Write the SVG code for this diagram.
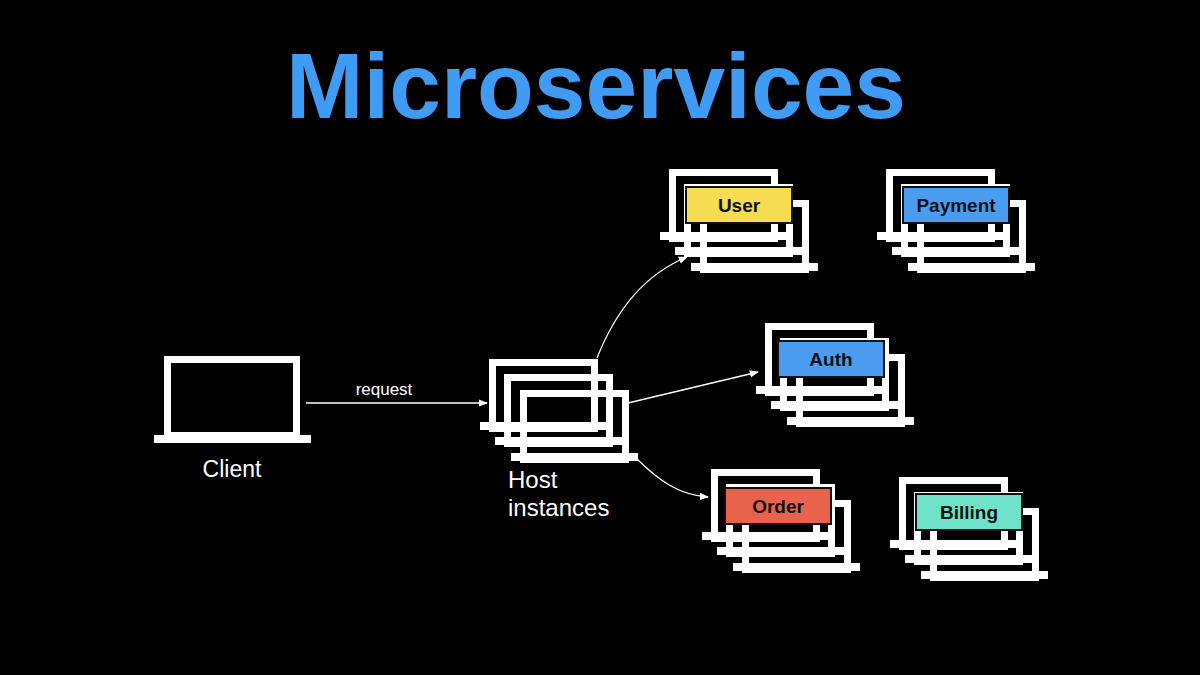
<svg xmlns="http://www.w3.org/2000/svg" xmlns:xlink="http://www.w3.org/1999/xlink" width="1200" height="675" viewBox="0 0 1200 675">
<style>
.scr{fill:none;stroke:#fff;stroke-width:7}
.base{fill:#fff}
.lbl{font-family:"Liberation Sans",Arial,sans-serif;fill:#fff}
.box{stroke:#111;stroke-width:2}
.bt{font-family:"Liberation Sans",Arial,sans-serif;font-weight:bold;font-size:19px;fill:#111;text-anchor:middle}
.conn{fill:none;stroke:#fff;stroke-width:1.3}
</style>
<defs>
<g id="lap"><rect class="scr" x="3.5" y="3.5" width="102" height="66"/><rect class="base" x="-9" y="63" width="127" height="8"/></g>
<g id="stack"><use href="#lap"/><use href="#lap" x="15" y="15"/><use href="#lap" x="31" y="31"/></g>
<marker id="ah" viewBox="0 0 10 10" refX="9" refY="5" markerWidth="7" markerHeight="7" orient="auto"><path d="M0,1 L10,5 L0,9 z" fill="#fff"/></marker>
</defs>
<rect width="1200" height="675" fill="#000"/>
<text x="596" y="118" text-anchor="middle" font-family="Liberation Sans,Arial,sans-serif" font-weight="bold" font-size="92" textLength="620" lengthAdjust="spacingAndGlyphs" fill="#3f9bf3">Microservices</text>
<g id="connectors">
<line class="conn" x1="306" y1="403" x2="487" y2="403" marker-end="url(#ah)"/>
<text class="lbl" x="384" y="395" font-size="17" text-anchor="middle">request</text>
<path class="conn" d="M597,358 C618,305 650,272 687,257" marker-end="url(#ah)"/>
<path class="conn" d="M628,403 L758,372" marker-end="url(#ah)"/>
<path class="conn" d="M636,458 C660,482 680,495 708,497" marker-end="url(#ah)"/>
</g>
<g id="client">
<rect class="scr" x="167.5" y="359.5" width="129" height="76"/><rect class="base" x="154" y="435" width="157" height="8"/>
<text class="lbl" x="232" y="477" font-size="23" text-anchor="middle">Client</text>
</g>
<g id="host">
<use href="#stack" x="489" y="359"/>
<text class="lbl" x="508" y="488" font-size="24">Host</text>
<text class="lbl" x="508" y="516" font-size="24">instances</text>
</g>
<g id="user"><use href="#stack" x="669" y="169"/><rect class="box" x="686" y="187" width="106" height="36" fill="#f5dc50"/><text class="bt" x="739" y="212">User</text></g>
<g id="payment"><use href="#stack" x="886" y="169"/><rect class="box" x="903" y="187" width="106" height="36" fill="#4a9cf0"/><text class="bt" x="956" y="212">Payment</text></g>
<g id="auth"><use href="#stack" x="765" y="323"/><rect class="box" x="778" y="341" width="106" height="36" fill="#4a9cf0"/><text class="bt" x="831" y="366">Auth</text></g>
<g id="order"><use href="#stack" x="711" y="469"/><rect class="box" x="725" y="488" width="106" height="36" fill="#e8634c"/><text class="bt" x="778" y="513">Order</text></g>
<g id="billing"><use href="#stack" x="899" y="477"/><rect class="box" x="916" y="494" width="106" height="36" fill="#6ee3c9"/><text class="bt" x="969" y="519">Billing</text></g>
</svg>
